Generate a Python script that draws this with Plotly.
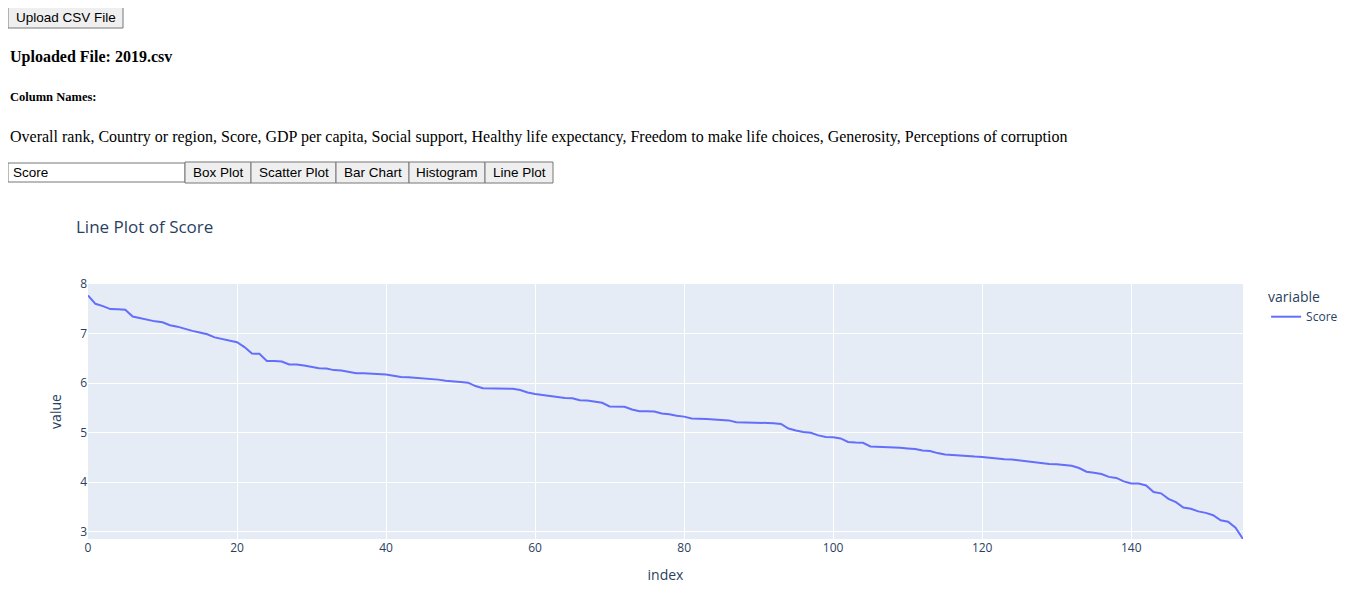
import plotly.graph_objects as go

scores = [7.769,7.600,7.554,7.494,7.488,7.480,7.343,7.307,7.278,7.246,7.228,7.167,7.139,7.090,7.054,7.021,6.985,6.923,6.892,6.852,
6.825,6.726,6.595,6.592,6.446,6.444,6.436,6.375,6.374,6.354,6.321,6.300,6.293,6.262,6.253,6.223,6.199,6.198,6.192,6.182,
6.174,6.149,6.125,6.118,6.105,6.100,6.086,6.070,6.046,6.028,6.021,6.008,5.940,5.895,5.893,5.890,5.888,5.886,5.860,5.809,
5.779,5.758,5.743,5.718,5.697,5.693,5.653,5.648,5.631,5.603,5.529,5.525,5.523,5.467,5.432,5.430,5.425,5.386,5.373,5.339,
5.323,5.287,5.285,5.274,5.265,5.261,5.247,5.211,5.208,5.208,5.197,5.192,5.191,5.175,5.082,5.044,5.011,4.996,4.944,4.913,
4.906,4.883,4.812,4.799,4.796,4.722,4.719,4.707,4.700,4.696,4.681,4.668,4.639,4.628,4.587,4.559,4.548,4.534,4.519,4.516,
4.509,4.490,4.466,4.461,4.456,4.437,4.418,4.390,4.374,4.366,4.360,4.350,4.332,4.286,4.212,4.189,4.166,4.107,4.085,4.015,
3.975,3.973,3.933,3.802,3.775,3.663,3.597,3.488,3.462,3.410,3.380,3.334,3.231,3.203,3.083,2.853]
index = list(range(len(scores)))
columns = "Overall rank, Country or region, Score, GDP per capita, Social support, Healthy life expectancy, Freedom to make life choices, Generosity, Perceptions of corruption"
buttons = [("Box Plot",185,251),("Scatter Plot",251,336),("Bar Chart",336,409),("Histogram",409,485),("Line Plot",485,553)]

W, H = 1350, 600
L, T, PW, PH = 80, 276, 1155, 255
def px(x): return (x - 8 - L) / PW
def py(y): return (T + PH + 8 - y) / PH

fig = go.Figure(go.Scatter(x=index, y=scores, mode="lines", name="Score",
                           line=dict(color="#636efa", width=2), showlegend=True))
shapes, ann = [], []
def button(x0, x1, y0, y1, text, fill="#efefef", align="center"):
    shapes.append(dict(type="rect", xref="paper", yref="paper", x0=px(x0), x1=px(x1), y0=py(y1), y1=py(y0),
                       fillcolor=fill, line=dict(color="#767676", width=1), layer="above"))
    if align == "center":
        ann.append(dict(x=px((x0+x1)/2), y=py((y0+y1)/2), text=text, xanchor="center"))
    else:
        ann.append(dict(x=px(x0+3), y=py((y0+y1)/2), text=text, xanchor="left"))

button(8, 123, 7, 28, "Upload CSV File")
button(8, 185, 163, 182, "Score", fill="white", align="left")
for t, a, b in buttons:
    button(a, b, 162, 183, t)
for a in ann:
    a.update(xref="paper", yref="paper", yanchor="middle", showarrow=False,
             font=dict(family="Arial", size=13.5, color="black"))
serif = "Liberation Serif"
ann += [
    dict(x=px(8), y=py(57), text="<b>Uploaded File: 2019.csv</b>", font=dict(family=serif, size=16, color="black")),
    dict(x=px(8), y=py(97), text="<b>Column Names:</b>", font=dict(family=serif, size=12.5, color="black")),
    dict(x=px(8), y=py(137), text=columns, font=dict(family=serif, size=16, color="black")),
]
for a in ann[-3:]:
    a.update(xref="paper", yref="paper", xanchor="left", yanchor="middle", showarrow=False)

fig.update_layout(
    width=W, height=H, autosize=False,
    margin=dict(l=L, r=W-L-PW, t=T, b=H-T-PH),
    title=dict(text="Line Plot of Score", x=(76-8)/W, xanchor="left", y=1-(227-8)/H, yanchor="middle",
               font=dict(size=17, color="#2a3f5f")),
    template="plotly",
    xaxis=dict(title="index", range=[0, 155], zeroline=False),
    yaxis=dict(title="value", range=[2.853, 8.0], dtick=1),
    legend=dict(title=dict(text="variable"), x=1.02, y=1, yanchor="top"),
    shapes=shapes, annotations=ann,
)
fig.write_html("out.html")
